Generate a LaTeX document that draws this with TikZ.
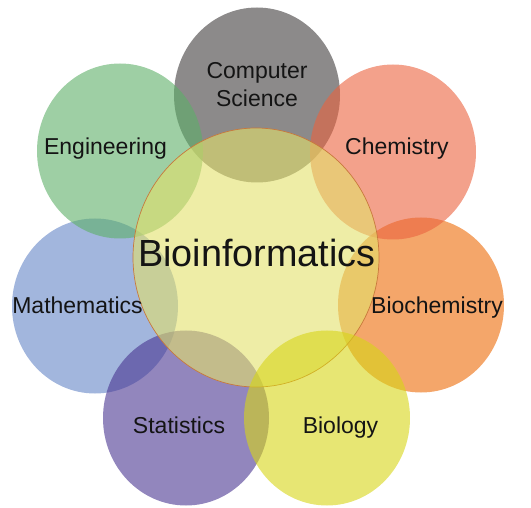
\documentclass[tikz,border=0pt]{standalone}
\usepackage{fontspec}
\setmainfont{Liberation Sans}
\usepackage{tikz}
\usetikzlibrary{shapes.geometric}

\definecolor{mathblue}{RGB}{100,133,198}
\definecolor{statpurple}{RGB}{73,53,145}
\definecolor{compgray}{RGB}{63,60,60}
\definecolor{biochorange}{RGB}{237,107,7}
\definecolor{enggreen}{RGB}{93,175,103}
\definecolor{chemsalmon}{RGB}{235,98,62}
\definecolor{biolyellow}{RGB}{215,213,22}
\definecolor{infoyellow}{RGB}{227,225,107}
\definecolor{infoedge}{RGB}{200,120,60}

\begin{document}
\begin{tikzpicture}[x=1pt, y=-1pt,
        field/.style={ellipse, minimum width=166pt, minimum height=175pt, inner sep=0pt, fill opacity=0.6},
        lbl/.style={anchor=base, align=center, text=black!92, font=\fontsize{23}{28}\selectfont}]
        \useasboundingbox (0, 0) rectangle (531, 508);
        \node[field, fill=mathblue] (math) at (95, 306) {};
        \node[field, fill=statpurple] (stat) at (186, 418) {};
        \node[field, fill=compgray] (comp) at (257, 95) {};
        \node[field, fill=biochorange] (bioch) at (421, 305) {};
        \node[field, fill=enggreen] (eng) at (120, 151) {};
        \node[field, fill=chemsalmon] (chem) at (393, 152) {};
        \node[ellipse, minimum width=246pt, minimum height=259pt, inner sep=0pt, fill=infoyellow, fill opacity=0.6, draw=infoedge, line width=0.7pt] (info) at (256, 257.5) {};
        \node[field, fill=biolyellow] (biol) at (327, 418) {};
        \node[lbl] (comp-l) at (257, 107) {Computer\\Science};
        \node[lbl] (eng-l) at (105.5, 155) {Engineering};
        \node[lbl] (chem-l) at (397, 155) {Chemistry};
        \node[lbl, font=\fontsize{37.8}{44}\selectfont] (info-l) at (257, 267) {Bioinformatics};
        \node[lbl] (math-l) at (77.5, 313) {Mathematics};
        \node[lbl] (bioch-l) at (437, 313) {Biochemistry};
        \node[lbl] (stat-l) at (179, 433) {Statistics};
        \node[lbl] (biol-l) at (340.5, 433) {Biology};
    \end{tikzpicture}
\end{document}
